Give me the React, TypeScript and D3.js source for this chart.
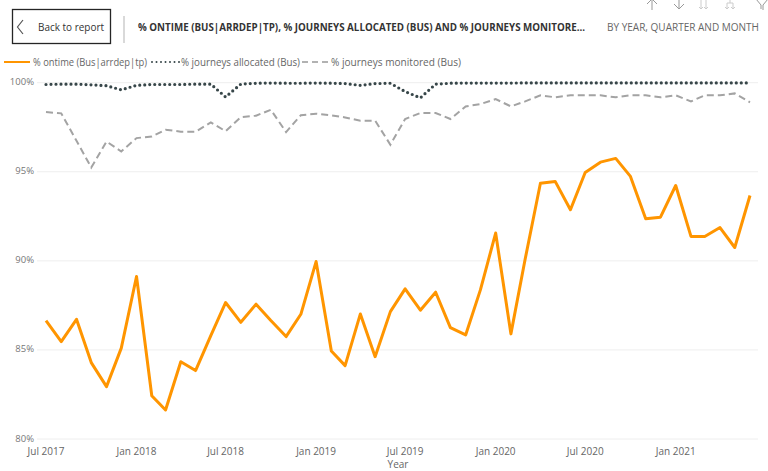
import React from 'react'
import * as d3 from 'd3'

// months, Jul 2017 .. Jun 2021
const months = [
  '2017-07', '2017-08', '2017-09', '2017-10', '2017-11', '2017-12',
  '2018-01', '2018-02', '2018-03', '2018-04', '2018-05', '2018-06',
  '2018-07', '2018-08', '2018-09', '2018-10', '2018-11', '2018-12',
  '2019-01', '2019-02', '2019-03', '2019-04', '2019-05', '2019-06',
  '2019-07', '2019-08', '2019-09', '2019-10', '2019-11', '2019-12',
  '2020-01', '2020-02', '2020-03', '2020-04', '2020-05', '2020-06',
  '2020-07', '2020-08', '2020-09', '2020-10', '2020-11', '2020-12',
  '2021-01', '2021-02', '2021-03', '2021-04', '2021-05', '2021-06',
]

const ontime = [
  86.65, 85.47, 86.72, 84.29, 82.94, 85.1, 89.12, 82.43, 81.63, 84.34, 83.84, 85.8,
  87.66, 86.55, 87.57, 86.65, 85.75, 87.0, 89.96, 84.94, 84.12, 87.02, 84.62, 87.15,
  88.43, 87.23, 88.24, 86.25, 85.84, 88.37, 91.56, 85.9, 90.1, 94.36, 94.46, 92.87,
  94.96, 95.54, 95.75, 94.74, 92.36, 92.45, 94.23, 91.37, 91.37, 91.87, 90.75, 93.67,
]

const allocated = [
  99.9, 99.92, 99.92, 99.88, 99.83, 99.6, 99.85, 99.9, 99.9, 99.9, 99.92, 99.92,
  99.2, 99.92, 99.97, 99.98, 99.97, 99.97, 99.98, 99.97, 99.95, 99.85, 99.95, 99.97,
  99.5, 99.15, 99.92, 99.97, 99.98, 99.98, 99.98, 99.98, 99.99, 99.99, 99.99, 99.99,
  99.99, 99.99, 99.99, 99.99, 99.99, 99.99, 99.99, 99.99, 99.99, 99.99, 99.99, 99.99,
]

const monitored = [
  98.35, 98.28, 96.74, 95.24, 96.7, 96.14, 96.89, 96.98, 97.36, 97.25, 97.25, 97.77,
  97.28, 98.07, 98.15, 98.48, 97.23, 98.17, 98.26, 98.17, 98.05, 97.87, 97.87, 96.52,
  97.96, 98.3, 98.3, 97.96, 98.67, 98.8, 99.08, 98.67, 98.95, 99.29, 99.18, 99.29,
  99.29, 99.29, 99.18, 99.29, 99.29, 99.18, 99.29, 98.95, 99.29, 99.29, 99.4, 98.9,
]

const yTicks = [80, 85, 90, 95, 100]

const W = 768
const H = 471
const font = "'Segoe UI', 'Open Sans', 'DejaVu Sans', sans-serif"

const parse = d3.timeParse('%Y-%m')
const dates = months.map(m => parse(m) as Date)

const x = d3
  .scaleTime()
  .domain([dates[0], dates[dates.length - 1]])
  .range([46, 750])

const y = d3.scaleLinear().domain([80, 100]).range([439, 82.7])

const xTicks = d3.timeMonth.every(6)!.range(dates[0], d3.timeDay.offset(dates[dates.length - 1], 1))
const fmt = d3.timeFormat('%b %Y')

const line = (vals: number[]) =>
  d3
    .line<number>()
    .x((d, i) => x(dates[i]))
    .y(d => y(d))(vals) as string

export default function App() {
  return (
    <svg width={W} height={H} style={{ position: 'absolute', left: 0, top: 0, background: '#fff' }} fontFamily={font}>
      {/* header */}
      <rect x={12.5} y={9.5} width={98} height={34} fill="none" stroke="#252525" strokeWidth={1.3} />
      <path d="M23,20 L17.5,27 L23,34" fill="none" stroke="#555" strokeWidth={1.2} />
      <text x={38} y={31} fontSize={11.5} fill="#333" textLength={66} lengthAdjust="spacingAndGlyphs">
        Back to report
      </text>
      <line x1={124} x2={124} y1={16} y2={43} stroke="#ccc" strokeWidth={1.5} />
      <text
        x={138}
        y={31}
        fontSize={10}
        fontWeight="bold"
        fill="#333"
        textLength={447}
        lengthAdjust="spacingAndGlyphs"
      >
        % ONTIME (BUS|ARRDEP|TP), % JOURNEYS ALLOCATED (BUS) AND % JOURNEYS MONITORE...
      </text>
      <text x={607} y={31} fontSize={10} fill="#666" textLength={152} lengthAdjust="spacingAndGlyphs">
        BY YEAR, QUARTER AND MONTH
      </text>

      {/* toolbar icons */}
      <g fill="none" strokeWidth={1}>
        <path d="M652,0 L652,10 M647,4 L652,-1 L657,4" stroke="#999" />
        <path d="M679,-1 L679,9 M674,4 L679,9 L684,4" stroke="#999" />
        <path d="M701,-1 L701,9 M706,-1 L706,9 M699,7 L701,9 L703,7 M704,7 L706,9 L708,7" stroke="#ccc" />
        <path d="M730,-1 L730,3 M727,3 L733,3 M727,3 L727,9 M733,3 L733,9 M725,7 L727,9 L729,7 M731,7 L733,9 L735,7" stroke="#ccc" />
        <path d="M756,-1 L768,-1 L763,5 L763,10 M756,-1 L761,5 L761,9" stroke="#999" />
      </g>

      {/* legend */}
      <line x1={4} x2={30} y1={62} y2={62} stroke="#FF9500" strokeWidth={2} />
      <text x={33} y={65.5} fontSize={10} fill="#666" textLength={114} lengthAdjust="spacingAndGlyphs">
        % ontime (Bus|arrdep|tp)
      </text>
      <line x1={152} x2={180} y1={62} y2={62} stroke="#374649" strokeWidth={2} strokeDasharray="0,4.5" strokeLinecap="round" />
      <text x={181} y={65.5} fontSize={10} fill="#666" textLength={119} lengthAdjust="spacingAndGlyphs">
        % journeys allocated (Bus)
      </text>
      <line x1={302} x2={330} y1={62} y2={62} stroke="#999" strokeWidth={1.5} strokeDasharray="6,4" />
      <text x={331} y={65.5} fontSize={10} fill="#666" textLength={130} lengthAdjust="spacingAndGlyphs">
        % journeys monitored (Bus)
      </text>

      {/* gridlines & y labels */}
      {yTicks.map(t => (
        <g key={t}>
          <line x1={37} x2={758} y1={y(t)} y2={y(t)} stroke="#eee" strokeWidth={1} />
          <text x={34} y={y(t) + 2.5} fontSize={9.5} fill="#777" textAnchor="end">
            {t}%
          </text>
        </g>
      ))}

      {/* x labels */}
      {xTicks.map(d => (
        <text key={+d} x={x(d)} y={455} fontSize={10} fill="#666" textAnchor="middle">
          {fmt(d)}
        </text>
      ))}
      <text x={398} y={468} fontSize={10} fill="#666" textAnchor="middle">
        Year
      </text>

      {/* series */}
      <path d={line(monitored)} fill="none" stroke="#A3A3A3" strokeWidth={2} strokeDasharray="7,4" />
      <path
        d={line(allocated)}
        fill="none"
        stroke="#374649"
        strokeWidth={3.2}
        strokeDasharray="0,5"
        strokeLinecap="round"
        strokeLinejoin="round"
      />
      <path d={line(ontime)} fill="none" stroke="#FF9500" strokeWidth={3} strokeLinejoin="round" />
    </svg>
  )
}
